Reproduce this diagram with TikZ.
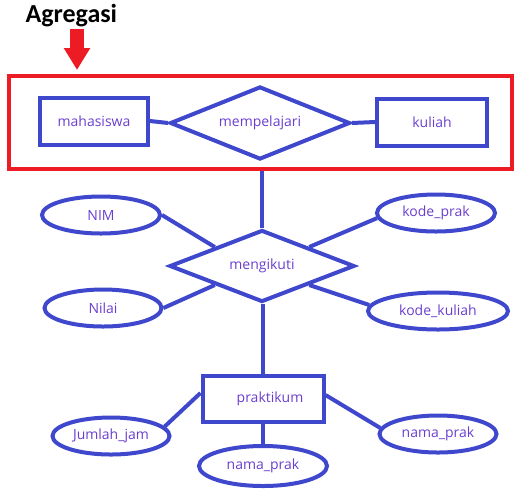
\documentclass[tikz,border=0pt]{standalone}
\usepackage{fontspec}
\setmainfont{Open Sans}
\newfontfamily\titlefont{Carlito}
\usetikzlibrary{shapes.geometric,arrows.meta}

\begin{document}
\begin{tikzpicture}[x=1pt, y=-1pt,
    entity/.style={draw=C0, line width=4pt, text=C1, minimum width=#1, minimum height=47pt, inner sep=0pt},
    relation/.style={draw=C0, line width=4pt, shape=diamond, aspect=2.5, text=C1, minimum width=#1, minimum height=73pt, inner sep=0pt},
    attrib/.style={draw=C0, line width=4pt, shape=ellipse, text=C1, minimum width=#1, minimum height=37pt, inner sep=0pt},
    link/.style={draw=C0, line width=4pt},
    every node/.style={font=\fontsize{14}{16}\selectfont}]
    \definecolor{C0}{HTML}{3F48CC}
    \definecolor{C1}{HTML}{6A3FCF}
    \definecolor{C2}{HTML}{ED1C24}

    \useasboundingbox (0,0) rectangle (529,496);

    % title and pointer
    \node[anchor=base west, font=\titlefont\bfseries\fontsize{26}{30}\selectfont] (title) at (22,22) {Agregasi};
    \coordinate (ar1) at (77,29);
    \coordinate (ar2) at (77,70);
    \path[draw=C2, line width=14pt, -{Triangle[width=25pt,length=22pt]}] (ar1) -- (ar2);

    % aggregation box
    \node[draw=C2, line width=4.5pt, minimum width=503pt, minimum height=93pt, inner sep=0pt] (agg) at (260.5,122.5) {};
    \node[entity=108pt] (mhs) at (94,121) {mahasiswa};
    \node[relation=180pt] (mp) at (260,123) {mempelajari};
    \node[entity=110pt] (kul) at (432,122) {kuliah};

    \path[link] (mhs.east) -- (mp.west);
    \path[link] (mp.east) -- (kul.west);

    % mengikuti
    \node[relation=185pt, minimum height=72pt] (mk) at (262,266) {mengikuti};
    \node[attrib=118pt] (nim) at (101,215) {NIM};
    \node[attrib=118pt] (kp) at (436,213) {kode\_prak};
    \node[attrib=117pt] (nilai) at (103,308) {Nilai};
    \node[attrib=140pt] (kk) at (438,311) {kode\_kuliah};

    \path[link] (mk.north |- agg.south) -- (mk.north);
    \path[link] (nim.east) -- (mk.north west);
    \path[link] (kp.185) -- (mk.north east);
    \path[link] (nilai.east) -- (mk.south west);
    \path[link] (kk.175) -- (mk.south east);

    % praktikum
    \node[entity=121pt, minimum height=46pt] (pr) at (263,399) {\hspace{14pt}praktikum};
    \node[attrib=117pt] (jj) at (111,436) {Jumlah\_jam};
    \node[attrib=128pt, minimum height=40pt] (np2) at (263,466) {nama\_prak};
    \node[attrib=117pt] (np1) at (438,434) {nama\_prak};

    \path[link] (pr.north |- mk.south) -- (pr.north);
    \path[link] (pr.south) -- (np2.north);
    \path[link] ([yshift=6pt]pr.west) -- (jj.10);
    \path[link] ([yshift=4pt]pr.east) -- (np1.174);

\end{tikzpicture}
\end{document}
